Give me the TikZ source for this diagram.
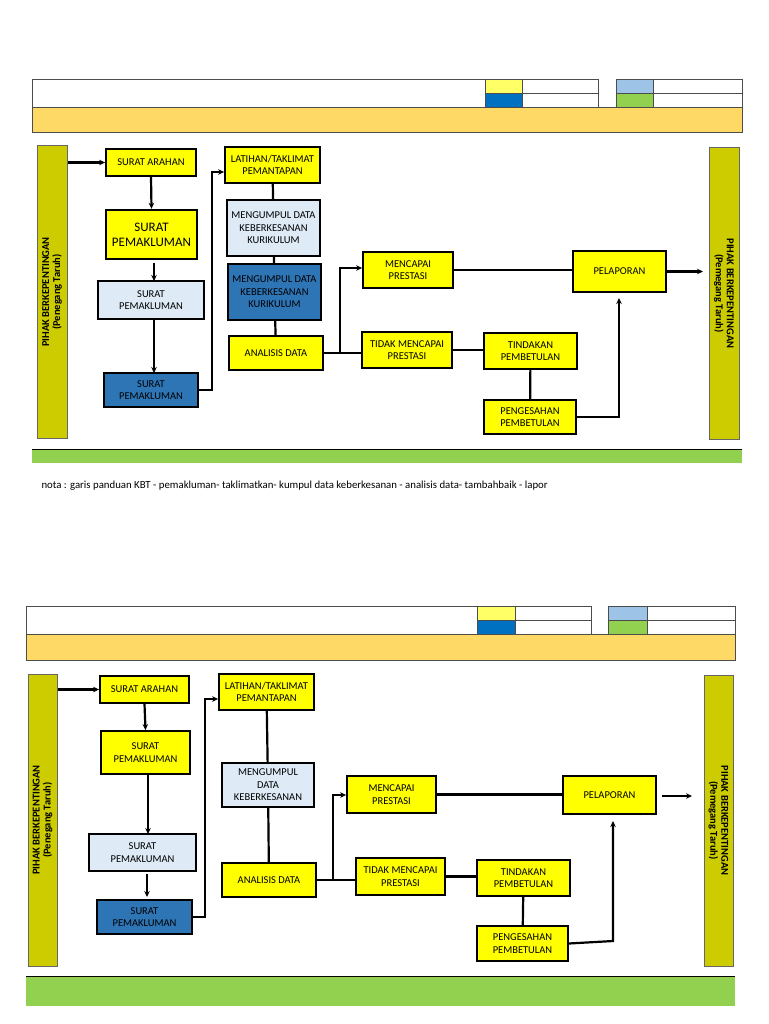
\documentclass[tikz,border=0pt]{standalone}
\usepackage{fontspec}
\setmainfont{Carlito}
\usetikzlibrary{arrows.meta}
\definecolor{byel}{HTML}{FFFF00}
\definecolor{lblue}{HTML}{DEEBF7}
\definecolor{dblue}{HTML}{2E75B6}
\definecolor{olive}{HTML}{CCCC00}
\definecolor{orng}{HTML}{FFD966}
\definecolor{grn}{HTML}{92D050}
\definecolor{lyel}{HTML}{FFFF66}
\definecolor{lgblue}{HTML}{9DC3E6}
\definecolor{mblue}{HTML}{0070C0}
\begin{document}
\begin{tikzpicture}[x=1pt,y=-1pt,
  box/.style={draw=black,line width=1.8pt,align=center,font=\fontsize{10.5}{12.5}\selectfont,inner sep=0pt},
  yb/.style={box,fill=byel},
  lb/.style={box,fill=lblue,line width=1.3pt},
  db/.style={box,fill=dblue},
  bar/.style={draw=black!60,fill=olive,line width=1pt},
  conn/.style={line width=2.2pt},
  arr/.style={line width=2.2pt,-{Stealth[length=6pt,width=5.5pt]}},
  cell/.style={draw=black!70,line width=0.8pt},
  vtxt/.style={font=\fontsize{10.5}{11}\bfseries\selectfont,align=center,inner sep=0pt}]
\useasboundingbox (0,0) rectangle (768,1024);
\fill[white] (0,0) rectangle (768,1024);
% ===== Diagram 1 =====
\draw[cell] (32,79) rectangle (598,107);
\draw[cell,fill=lyel] (485,79) rectangle (522,93);
\draw[cell,fill=mblue] (485,93) rectangle (522,107);
\draw[cell] (522,79) rectangle (598,93);
\draw[cell] (522,93) rectangle (598,107);
\draw[cell,fill=lgblue] (616,79) rectangle (653,93);
\draw[cell,fill=grn] (616,93) rectangle (653,107);
\draw[cell] (653,79) rectangle (742,93);
\draw[cell] (653,93) rectangle (742,107);
\draw[cell,fill=orng] (32,107) rectangle (742,132);
\fill[grn] (32,449) rectangle (742,463);
\draw[line width=1pt] (32,449) -- (742,449);
\node[bar,minimum width=30pt,minimum height=292pt,inner sep=0pt] (L1) at (52,292) {};
\node[vtxt,rotate=90] at (L1.center) {PIHAK BERKEPENTINGAN\\(Penegang Taruh)};
\node[bar,minimum width=30pt,minimum height=291pt,inner sep=0pt] (R1) at (724,293.5) {};
\node[vtxt,rotate=-90] at (R1.center) {PIHAK BERKEPENTINGAN\\(Pemegang Taruh)};
\node[yb,minimum width=90pt,minimum height=27pt] (a1) at (151,162.5) {SURAT ARAHAN};
\node[yb,line width=2.4pt,minimum width=91pt,minimum height=49pt,font=\fontsize{13}{15}\selectfont] (b1) at (151.5,234.5) {SURAT\\PEMAKLUMAN};
\node[lb,minimum width=106pt,minimum height=38pt] (c1) at (151,300) {SURAT\\PEMAKLUMAN};
\node[db,minimum width=94pt,minimum height=34pt] (d1) at (151,390) {SURAT\\PEMAKLUMAN};
\node[yb,minimum width=95pt,minimum height=36pt] (e1) at (272.5,165) {LATIHAN/TAKLIMAT\\PEMANTAPAN};
\node[lb,minimum width=93pt,minimum height=56pt] (f1) at (273.5,228) {MENGUMPUL DATA\\KEBERKESANAN\\KURIKULUM};
\node[db,minimum width=93pt,minimum height=56pt] (g1) at (274.5,292) {MENGUMPUL DATA\\KEBERKESANAN\\KURIKULUM};
\node[yb,minimum width=94pt,minimum height=34pt] (h1) at (276,353) {ANALISIS DATA};
\node[yb,minimum width=90pt,minimum height=36pt] (i1) at (408,270) {MENCAPAI\\PRESTASI};
\node[yb,minimum width=90pt,minimum height=36pt] (j1) at (407,350) {TIDAK MENCAPAI\\PRESTASI};
\node[yb,minimum width=93pt,minimum height=41pt] (k1) at (619.5,271.5) {PELAPORAN};
\node[yb,minimum width=93pt,minimum height=36pt] (l1) at (530.5,351) {TINDAKAN\\PEMBETULAN};
\node[yb,minimum width=92pt,minimum height=34pt] (m1) at (530,417) {PENGESAHAN\\PEMBETULAN};
\coordinate (n1a) at (619,298);
\coordinate (n1b) at (703,271.5);
\draw[arr] (L1.east |- a1) -- (a1.west);
\draw[arr] (a1.south) -- (b1.north);
\draw[arr] (154,263) -- (154,281);
\draw[arr] (154,319) -- (154,373);
\draw[arr] (d1.east) -- (212,390) -- (212,172) -- (e1.west |- 0,172);
\draw[conn] (e1) -- (f1); \draw[conn] (f1) -- (g1); \draw[conn] (g1) -- (h1);
\draw[conn] (h1.east) -- (j1.west |- h1.east);
\draw[arr] (340,353) -- (340,268) -- (i1.west |- 0,268);
\draw[conn] (i1.east) -- (k1.west |- i1.east);
\draw[conn] (j1.east) -- (l1.west |- j1.east);
\draw[conn] (l1) -- (m1);
\draw[arr] (m1.east) -- (619,417) -- (n1a);
\draw[arr] (k1.east) -- (n1b);
\node[anchor=west,font=\fontsize{10.8}{12}\selectfont] (nota) at (38,486) {nota : garis panduan KBT - pemakluman- taklimatkan- kumpul data keberkesanan - analisis data- tambahbaik - lapor};
% ===== Diagram 2 =====
\draw[cell] (26,606) rectangle (591,634);
\draw[cell,fill=lyel] (477,606) rectangle (515,620);
\draw[cell,fill=mblue] (477,620) rectangle (515,634);
\draw[cell] (515,606) rectangle (591,620);
\draw[cell] (515,620) rectangle (591,634);
\draw[cell,fill=lgblue] (608,606) rectangle (647,620);
\draw[cell,fill=grn] (608,620) rectangle (647,634);
\draw[cell] (647,606) rectangle (735,620);
\draw[cell] (647,620) rectangle (735,634);
\draw[cell,fill=orng] (26,634) rectangle (735,660);
\fill[grn] (26,976) rectangle (735,1006);
\draw[line width=1pt] (26,976) -- (735,976);
\node[bar,minimum width=29pt,minimum height=292pt,inner sep=0pt] (L2) at (42.5,820) {};
\node[vtxt,rotate=90] at (L2.center) {PIHAK BERKEPENTINGAN\\(Penegang Taruh)};
\node[bar,minimum width=29pt,minimum height=291pt,inner sep=0pt] (R2) at (718.5,820.5) {};
\node[vtxt,rotate=-90] at (R2.center) {PIHAK BERKEPENTINGAN\\(Pemegang Taruh)};
\node[yb,minimum width=89pt,minimum height=27pt] (a2) at (144.5,689.5) {SURAT ARAHAN};
\node[yb,minimum width=89pt,minimum height=43pt] (b2) at (145.5,752.5) {SURAT\\PEMAKLUMAN};
\node[lb,line width=1.8pt,minimum width=107pt,minimum height=37pt] (c2) at (142.5,852.5) {SURAT\\PEMAKLUMAN};
\node[db,minimum width=95pt,minimum height=34pt] (d2) at (144.5,917) {SURAT\\PEMAKLUMAN};
\node[yb,minimum width=95pt,minimum height=36pt] (e2) at (266.5,692) {LATIHAN/TAKLIMAT\\PEMANTAPAN};
\node[lb,minimum width=92pt,minimum height=44pt] (f2) at (268,785) {MENGUMPUL\\DATA\\KEBERKESANAN};
\node[yb,minimum width=94pt,minimum height=34pt] (h2) at (269,880) {ANALISIS DATA};
\node[yb,minimum width=89pt,minimum height=37pt] (i2) at (391.5,794.5) {MENCAPAI\\PRESTASI};
\node[yb,minimum width=89pt,minimum height=37pt] (j2) at (400.5,876.5) {TIDAK MENCAPAI\\PRESTASI};
\node[yb,minimum width=93pt,minimum height=38pt] (k2) at (609.5,795) {PELAPORAN};
\node[yb,minimum width=93pt,minimum height=36pt] (l2) at (523.5,878) {TINDAKAN\\PEMBETULAN};
\node[yb,minimum width=91pt,minimum height=35pt] (m2) at (522.5,943.5) {PENGESAHAN\\PEMBETULAN};
\coordinate (n2a) at (613,821);
\coordinate (n2b) at (662,796);
\coordinate (n2c) at (692,796);
\draw[arr] (L2.east |- a2) -- (a2.west);
\draw[arr] (a2.south) -- (b2.north);
\draw[arr] (148,774) -- (148,834);
\draw[arr] (147,874) -- (147,897);
\draw[arr] (d2.east) -- (205,917) -- (205,699) -- (e2.west |- 0,699);
\draw[conn] (e2) -- (f2); \draw[conn] (f2) -- (h2);
\draw[conn] (h2.east) -- (j2.west |- h2.east);
\draw[arr] (333,880) -- (333,795) -- (i2.west |- 0,795);
\draw[conn] (i2.east) -- (k2.west |- i2.east);
\draw[conn] (j2.east) -- (l2.west |- j2.east);
\draw[conn] (l2) -- (m2);
\draw[arr] (m2.east) -- (613,941) -- (n2a);
\draw[arr] (n2b) -- (n2c);
\end{tikzpicture}
\end{document}
